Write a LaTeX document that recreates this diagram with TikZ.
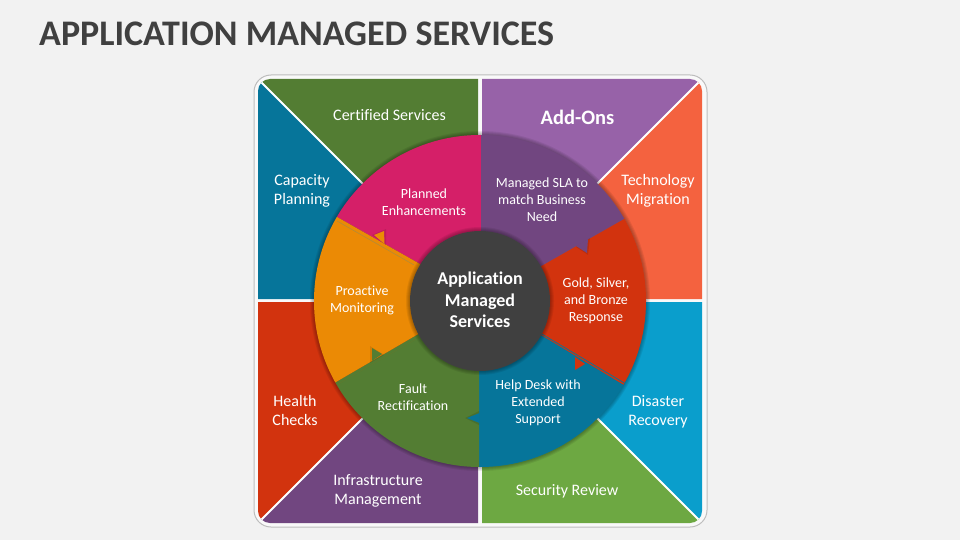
\documentclass[tikz,border=0pt]{standalone}
\usepackage{fontspec}
\setmainfont[Ligatures=CommonOff]{Carlito}
\definecolor{bg}{HTML}{F2F2F2}
\definecolor{framefill}{HTML}{F9F9F9}
\definecolor{frameline}{HTML}{BDBDBD}
\definecolor{titlec}{HTML}{404040}
\definecolor{cgreen}{HTML}{537D33}
\definecolor{cpurple}{HTML}{714680}
\definecolor{clilac}{HTML}{9762A8}
\definecolor{corange}{HTML}{F4623F}
\definecolor{cteal}{HTML}{06759A}
\definecolor{csky}{HTML}{0A9ECC}
\definecolor{cred}{HTML}{D2330E}
\definecolor{clime}{HTML}{6DA842}
\definecolor{cpink}{HTML}{D51F68}
\definecolor{camber}{HTML}{EB8A05}
\definecolor{seamamber}{HTML}{A98A40}
\definecolor{seamgreen}{HTML}{5F7A2E}
\tikzset{
  panelText/.style={text=white,align=center,inner sep=0pt,font=\fontsize{16}{19}\selectfont},
  ringText/.style={text=white,align=center,inner sep=0pt,font=\fontsize{14}{17}\selectfont},
  diagLine/.style={draw=white,line width=2pt},
  softShadow/.style={fill=black,fill opacity=0.07,draw=none},
  tabShadow/.style={fill=black,fill opacity=0.1,draw=none}
}
\begin{document}
\begin{tikzpicture}[x=1pt,y=-1pt]
\useasboundingbox (0,0) rectangle (960,540);
\fill[bg] (0,0) rectangle (960,540);
\node[anchor=base west,inner sep=0pt,text=titlec,font=\fontsize{36}{40}\selectfont\bfseries] (title) at (39,46) {APPLICATION MANAGED SERVICES};
% frame
\draw[frameline,fill=framefill,line width=1pt,rounded corners=17pt] (254,75) rectangle (707,527);
% top-left quadrant
\begin{scope}
\clip (478,79) -- (478,299) -- (258,299) -- (258,91) .. controls (258,84.4) and (263.4,79) .. (270,79) -- cycle;
\fill[cgreen] (250,70) -- (490,70) -- (490,310) -- cycle;
\fill[cteal] (250,70) -- (250,310) -- (490,310) -- cycle;
\draw[diagLine] (250,71) -- (480,301);
\end{scope}
% top-right quadrant
\begin{scope}
\clip (482,299) -- (482,79) -- (690,79) .. controls (696.6,79) and (702,84.4) .. (702,91) -- (702,299) -- cycle;
\fill[clilac] (470,70) -- (710,70) -- (470,310) -- cycle;
\fill[corange] (710,70) -- (710,310) -- (470,310) -- cycle;
\draw[diagLine] (710,71) -- (480,301);
\end{scope}
% bottom-left quadrant
\begin{scope}
\clip (478,302) -- (478,523) -- (270,523) .. controls (263.4,523) and (258,517.6) .. (258,511) -- (258,302) -- cycle;
\fill[cred] (250,290) -- (490,290) -- (250,530) -- cycle;
\fill[cpurple] (250,530) -- (490,530) -- (490,290) -- cycle;
\draw[diagLine] (250,531) -- (480,301);
\end{scope}
% bottom-right quadrant
\begin{scope}
\clip (482,302) -- (702,302) -- (702,511) .. controls (702,517.6) and (696.6,523) .. (690,523) -- (482,523) -- cycle;
\fill[csky] (470,290) -- (710,290) -- (710,530) -- cycle;
\fill[clime] (470,290) -- (710,530) -- (470,530) -- cycle;
\draw[diagLine] (710,531) -- (480,301);
\end{scope}
% ring shadow
\foreach \r in {170,169,168,167}{\fill[softShadow] (480,301) circle[radius=\r];}
% ring sectors
\begin{scope}
\clip (480,301) circle[radius=166];
\fill[cpink] (481,301) -- (481,100) -- (300,100) -- (300,196) -- (480,298) -- cycle;
\fill[cpurple] (481,301) -- (481,100) -- (700,100) -- (700,176) -- (480,301) -- cycle;
\fill[cteal] (479,301) -- (479,480) -- (700,480) -- (700,431) -- (480,298) -- cycle;
\fill[cgreen] (479,301) -- (479,480) -- (300,480) -- (300,403) -- (480,298) -- cycle;
\fill[cred] (480,301) -- (700,176) -- (700,431) -- (480,298) -- cycle;
\fill[camber] (480,298) -- (300,196) -- (300,403) -- cycle;
% thin seams
\draw[cteal,line width=0.7pt] (541,333.5) -- (626,384);
\draw[seamamber,line width=0.5pt] (337,221) -- (414,265);
\draw[seamgreen,line width=0.4pt] (340,383) -- (418,338);
% amber tab into pink
\fill[tabShadow] (372,235) -- (386,229) -- (386,245) -- cycle;
\fill[camber] (374,235) -- (384,231) -- (384.5,244) -- cycle;
% purple tab into gold
\fill[tabShadow] (576,247) -- (588,255) -- (590,238) -- cycle;
\fill[cpurple] (576,246) -- (587,253) -- (588,239) -- cycle;
% gold tab into teal
\fill[cred] (575,357) -- (575,370) -- (585,364) -- cycle;
% green tab into amber
\fill[tabShadow] (370,346) -- (370,363) -- (384,355) -- cycle;
\fill[cgreen] (372,348) -- (372,361) -- (382,354) -- cycle;
% teal tab into green
\fill[tabShadow] (465,418) -- (479,411) -- (479,425) -- cycle;
\fill[cteal] (467,418) -- (479.5,413) -- (479.5,423) -- cycle;
\end{scope}
% hub shadow
\foreach \r in {74,73,72,71}{\fill[softShadow] (480,301) circle[radius=\r];}
\fill[titlec] (480,301) circle[radius=70];
% panel labels
\node[panelText] (certified) at (389.5,115.5) {Certified Services};
\node[panelText] (capacity) at (302,191) {Capacity\\Planning};
\node[text=white,inner sep=0pt,font=\fontsize{20.5}{24}\selectfont\bfseries] (addons) at (577.5,117) {Add-Ons};
\node[panelText] (techmig) at (658,191) {Technology\\Migration};
\node[panelText] (health) at (295,410) {Health\\Checks};
\node[panelText] (infra) at (378,490.5) {Infrastructure\\Management};
\node[panelText] (security) at (567,491) {Security Review};
\node[panelText] (disaster) at (658,412) {Disaster\\Recovery};
% ring labels
\node[ringText] (planned) at (424,202) {Planned\\Enhancements};
\node[ringText] (sla) at (542,200) {Managed SLA to\\match Business\\Need};
\node[ringText] (gold) at (596,301) {Gold, Silver,\\and Bronze\\Response};
\node[ringText] (help) at (538,403) {Help Desk with\\Extended\\Support};
\node[ringText] (fault) at (413,397) {Fault\\Rectification};
\node[ringText] (proactive) at (362,300) {Proactive\\Monitoring};
% hub label
\node[text=white,align=center,inner sep=0pt,font=\fontsize{18}{21.5}\selectfont\bfseries] (hub) at (480,300) {Application\\Managed\\Services};
\end{tikzpicture}
\end{document}
